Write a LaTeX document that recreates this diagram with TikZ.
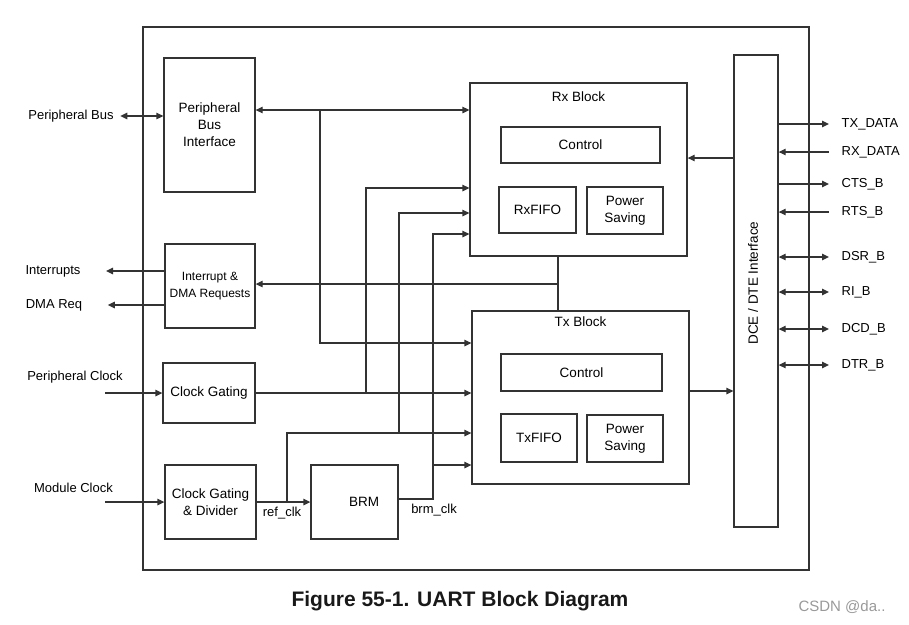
\documentclass[tikz,border=0pt]{standalone}
\usepackage{fontspec}
\setmainfont{Liberation Sans}
\usetikzlibrary{arrows.meta}

\begin{document}
\begin{tikzpicture}[x=1pt,y=-1pt,line width=1.3pt,line join=miter,
  >={Triangle[length=7pt,width=6.5pt]},
  blk/.style={draw=uartline,inner sep=0pt,align=center,
    font=\fontsize{13.5}{17}\selectfont},
  sig/.style={inner sep=0pt,font=\fontsize{13}{16}\selectfont},
  sigr/.style={sig,anchor=west,inner xsep=12pt}]
\definecolor{uartline}{rgb}{0.2,0.2,0.2}
\useasboundingbox (0,0) rectangle (909,624);
\tikzset{every path/.append style={draw=uartline}}

  % outer frame
  \node[blk,minimum width=666pt,minimum height=543pt] (uart) at (476,298.5) {};

  % left column
  \node[blk,minimum width=91pt,minimum height=134pt] (pbi) at (209.5,125) {Peripheral\\Bus\\Interface};
  \node[blk,minimum width=90pt,minimum height=84pt,
    font=\fontsize{12}{17}\selectfont] (irq) at (210,286) {Interrupt \&\\DMA Requests};
  \node[blk,minimum width=92pt,minimum height=60pt] (cg) at (209,393) {Clock Gating};
  \node[blk,minimum width=91pt,minimum height=74pt] (cgd) at (210.5,502) {Clock Gating\\\& Divider};
  \node[blk,minimum width=87pt,minimum height=74pt,text width=49pt,align=right] (brm) at (354.5,502) {BRM};

  % Rx and Tx blocks
  \node[blk,minimum width=217pt,minimum height=173pt] (rx) at (578.5,169.5) {};
  \node[sig,font=\fontsize{13.5}{17}\selectfont,below=9pt] (rxlbl) at (rx.north) {Rx Block};
  \node[blk,minimum width=159pt,minimum height=36pt] (rxctl) at (580.5,145) {Control};
  \node[blk,minimum width=77pt,minimum height=46pt] (rxfifo) at (537.5,210) {RxFIFO};
  \node[blk,minimum width=76pt,minimum height=47pt] (rxps) at (625,210.5) {Power\\Saving};

  \node[blk,minimum width=217pt,minimum height=173pt] (tx) at (580.5,397.5) {};
  \node[sig,font=\fontsize{13.5}{17}\selectfont,below=6pt] (txlbl) at (tx.north) {Tx Block};
  \node[blk,minimum width=161pt,minimum height=37pt] (txctl) at (581.5,372.5) {Control};
  \node[blk,minimum width=76pt,minimum height=48pt] (txfifo) at (539,438) {TxFIFO};
  \node[blk,minimum width=76pt,minimum height=47pt] (txps) at (625,438.5) {Power\\Saving};

  % DCE / DTE
  \node[blk,minimum width=44pt,minimum height=472pt] (dce) at (756,291) {};
  \node[sig,font=\fontsize{13.5}{17}\selectfont,rotate=90] (dcelbl) at (753,283) {DCE / DTE Interface};

  % outside signals
  \node[sig] (pbus) at (71,116) {Peripheral Bus};
  \node[sig] (intr) at (53,271) {Interrupts};
  \node[sig] (dmareq) at (54,305) {DMA Req};
  \node[sig] (pclk) at (75,377) {Peripheral Clock};
  \node[sig] (mclk) at (73.5,488) {Module Clock};
  \node[sig] (refclk) at (282,513) {ref\_clk};
  \node[sig] (brmclk) at (434,510) {brm\_clk};
  \coordinate (pclkin) at (105,393);
  \coordinate (mclkin) at (105,502);

  \draw[<->] ([xshift=6pt]pbus.east) -- (pbi.west |- pbus.east);
  \draw[->] (irq.west |- intr) -- ([xshift=25pt]intr.east);
  \draw[->] (irq.west |- dmareq) -- ([xshift=25pt]dmareq.east);
  \draw[->] (pclkin) -- (cg.west);
  \draw[->] (mclkin) -- (cgd.west);

  % bus
  \coordinate (busj) at (320,110);
  \draw[<->] (pbi.east |- busj) -- (rx.west |- busj);
  \draw[->] (busj) |- (tx.west |- 0,343);

  % clocks
  \coordinate (cgj) at (366,393);
  \draw[->] (cg.east) -- (tx.west |- cg.east);
  \draw[->] (cgj) |- (rx.west |- 0,188);

  \coordinate (refj) at (287,502);
  \coordinate (refj2) at (399,433);
  \draw[->] (cgd.east) -- (brm.west |- cgd.east);
  \draw[->] (refj) |- (tx.west |- refj2);
  \draw[->] (refj2) |- (rx.west |- 0,213);

  \coordinate (brmj) at (433,465);
  \draw (brm.east |- 0,499) -| (brmj);
  \draw[->] (brmj) |- (rx.west |- 0,234);
  \draw[->] (brmj) -- (tx.west |- brmj);

  % requests back to the interrupt block
  \coordinate (rxtxj) at (558,284);
  \draw (rx.south -| rxtxj) -- (tx.north -| rxtxj);
  \draw[->] (rxtxj) -- (irq.east |- rxtxj);

  \draw[->] (dce.west |- 0,158) -- (rx.east |- 0,158);
  \draw[->] (tx.east |- 0,391) -- (dce.west |- 0,391);

  % modem lines
  \foreach \y/\nm/\dir in {124/TX\_DATA/->,152/RX\_DATA/<-,184/CTS\_B/->,212/RTS\_B/<-,
    257/DSR\_B/<->,292/RI\_B/<->,329/DCD\_B/<->,365/DTR\_B/<->}{
    \node[sigr] (s\y) at (829,\y) {\nm};
    \draw[\dir] (dce.east |- s\y) -- (s\y.west);
  }

  \node[font=\fontsize{21}{25}\bfseries\selectfont,text=black!90] (cap) at (460,601) {Figure 55-1. UART Block Diagram};
  \node[font=\fontsize{15}{18}\selectfont,text=black!40] (wm) at (842,607) {CSDN @da..};
\end{tikzpicture}
\end{document}
